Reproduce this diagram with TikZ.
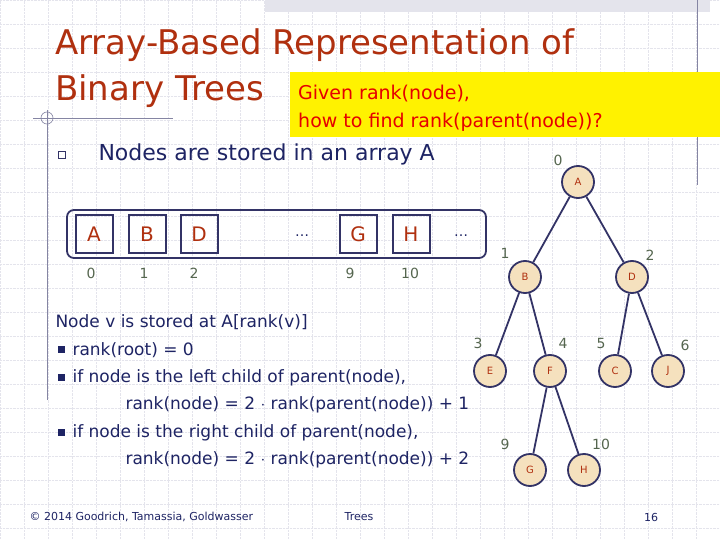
\documentclass[tikz,border=0pt]{standalone}
\usepackage{fontspec}
\setmainfont{DejaVu Sans}
\begin{document}
\begin{tikzpicture}[x=1pt,y=-1pt,
  tnode/.style={circle,draw=tdraw,line width=1.8pt,fill=tfill,minimum size=32pt,inner sep=0pt,font=\fontsize{10}{10}\selectfont,text=tred},
  rk/.style={text=tgreen,font=\fontsize{14}{14}\selectfont},
  cell/.style={draw=tdraw,line width=2pt,minimum width=37pt,minimum height=37pt,inner sep=0pt,font=\fontsize{20}{20}\selectfont,text=tred},
  idx/.style={text=tgreen,font=\fontsize{14}{14}\selectfont},
  body/.style={text=tblue,font=\fontsize{17}{20}\selectfont,anchor=west},
  edge/.style={draw=tdraw,line width=1.8pt}]
\definecolor{tdraw}{HTML}{333366}
\definecolor{tfill}{HTML}{F5E1BE}
\definecolor{tred}{HTML}{B0300F}
\definecolor{tgreen}{HTML}{55664F}
\definecolor{tblue}{HTML}{1E2464}
\definecolor{tgrid}{HTML}{E4E4EC}
\useasboundingbox (0,0) rectangle (720,540);
\fill[white] (0,0) rectangle (720,540);
\draw[tgrid,line width=0.4pt,densely dotted] (0,0) grid[step=24pt] (720,540);
\fill[tgrid] (265,0) rectangle (710,12);
\draw[tdraw!60,line width=0.6pt] (697,0) -- (697,185);
\draw[tdraw!60,line width=0.6pt] (33,118) -- (173,118);
\draw[tdraw!60,line width=0.6pt] (47,110) -- (47,400);
\draw[tdraw!60,line width=0.6pt] (47,118) circle (6pt);
\node[anchor=base west,text=tred,font=\fontsize{34}{34}\selectfont,inner sep=0] (t1) at (55,55) {Array-Based Representation of};
\node[anchor=base west,text=tred,font=\fontsize{34}{34}\selectfont,inner sep=0] (t2) at (55,101) {Binary Trees};
\fill[yellow] (290,72) rectangle (720,137);
\node[anchor=base west,text=red!90!black,font=\fontsize{19}{19}\selectfont,inner sep=0] (y1) at (298,100) {Given rank(node),};
\node[anchor=base west,text=red!90!black,font=\fontsize{19}{19}\selectfont,inner sep=0] (y2) at (298,128) {how to find rank(parent(node))?};
\node[draw=tdraw,fill=white,line width=0.8pt,minimum size=7pt,inner sep=0] (bq) at (62,155) {};
\node[body,font=\fontsize{22}{22}\selectfont] (nodes) at (95,154) {Nodes are stored in an array A};
\draw[tdraw,line width=1.8pt,rounded corners=7pt] (67,210) rectangle (486,258);
\node[cell] (cA) at (94,234) {A};
\node[cell] (cB) at (147,234) {B};
\node[cell] (cD) at (199,234) {D};
\node[text=tblue,font=\fontsize{14}{14}\selectfont] (d1) at (302,236) {\dots};
\node[cell] (cG) at (358,234) {G};
\node[cell] (cH) at (411,234) {H};
\node[text=tblue,font=\fontsize{14}{14}\selectfont] (d2) at (461,236) {\dots};
\node[idx] (i0) at (91,273) {0};
\node[idx] (i1) at (144,273) {1};
\node[idx] (i2) at (194,273) {2};
\node[idx] (i9) at (350,273) {9};
\node[idx] (i10) at (410,273) {10};
\node[tnode] (A) at (578,182) {A};
\node[tnode] (B) at (525,277) {B};
\node[tnode] (D) at (632,277) {D};
\node[tnode] (E) at (490,371) {E};
\node[tnode] (F) at (550,371) {F};
\node[tnode] (C) at (615,371) {C};
\node[tnode] (J) at (668,371) {J};
\node[tnode] (G) at (530,470) {G};
\node[tnode] (H) at (584,470) {H};
\draw[edge] (A) -- (B); \draw[edge] (A) -- (D);
\draw[edge] (B) -- (E); \draw[edge] (B) -- (F);
\draw[edge] (D) -- (C); \draw[edge] (D) -- (J);
\draw[edge] (F) -- (G); \draw[edge] (F) -- (H);
\node[rk] (r0) at (558,160) {0};
\node[rk] (r1) at (505,253) {1};
\node[rk] (r2) at (650,255) {2};
\node[rk] (r3) at (478,343) {3};
\node[rk] (r4) at (563,343) {4};
\node[rk] (r5) at (601,343) {5};
\node[rk] (r6) at (685,345) {6};
\node[rk] (r9) at (505,444) {9};
\node[rk] (r10) at (601,444) {10};
\node[body] (l0) at (52,322) {Node v is stored at A[rank(v)]};
\foreach \y in {350,378,433} \fill[tblue] (58,\y-4) rectangle (65,\y+3);
\node[body] (l1) at (69,350) {rank(root) = 0};
\node[body] (l2) at (69,378) {if node is the left child of parent(node),};
\node[body] (l3) at (122,405) {rank(node) = 2 $\cdot$ rank(parent(node)) + 1};
\node[body] (l4) at (69,433) {if node is the right child of parent(node),};
\node[body] (l5) at (122,460) {rank(node) = 2 $\cdot$ rank(parent(node)) + 2};
\node[anchor=west,text=tblue,font=\fontsize{11}{11}\selectfont] (f1) at (26,517) {\textcopyright{} 2014 Goodrich, Tamassia, Goldwasser};
\node[text=tblue,font=\fontsize{11}{11}\selectfont] (f2) at (359,517) {Trees};
\node[text=tblue,font=\fontsize{11}{11}\selectfont] (f3) at (651,517) {16};
\end{tikzpicture}
\end{document}
